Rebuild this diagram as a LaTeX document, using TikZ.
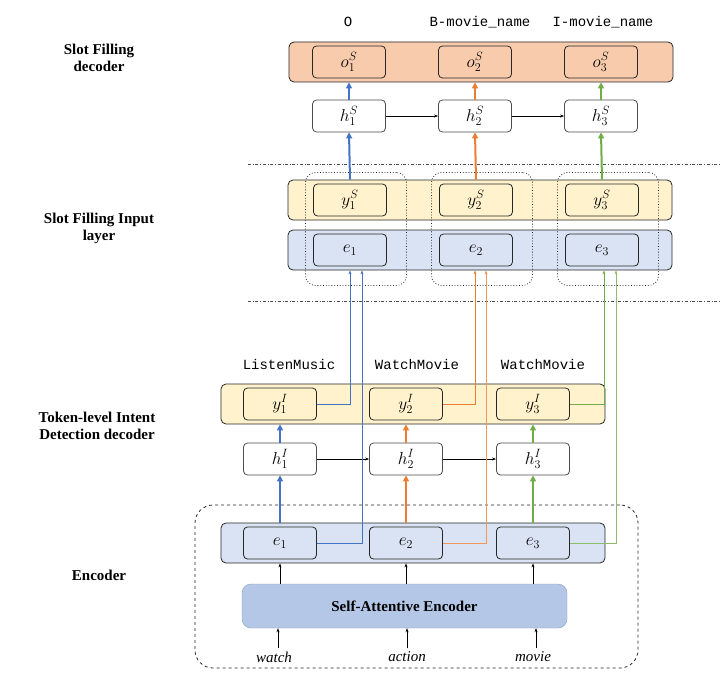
\documentclass[tikz,border=0pt]{standalone}
\usepackage{fontspec}
\setmainfont{Liberation Serif}
\setmonofont{Liberation Mono}
\usetikzlibrary{arrows.meta,calc}
\definecolor{cb}{HTML}{4472C4}
\definecolor{co}{HTML}{ED7D31}
\definecolor{cg}{HTML}{70AD47}
\definecolor{fo}{HTML}{F8CBAD}
\definecolor{fy}{HTML}{FFF2CC}
\definecolor{fb}{HTML}{DAE3F3}
\definecolor{fsa}{HTML}{B4C7E7}
\begin{document}
\begin{tikzpicture}[x=1pt,y=-1pt,
 row/.style={draw=black!85,line width=0.8pt,rounded corners=5pt,minimum width=384pt,minimum height=40pt,inner sep=0pt},
 cell/.style={draw=black!85,line width=0.8pt,rounded corners=4pt,minimum width=73pt,minimum height=32pt,inner sep=0pt,font=\fontsize{18}{20}\selectfont},
 hcell/.style={draw=black!70,line width=0.8pt,fill=white,rounded corners=4pt,minimum width=73pt,minimum height=32pt,inner sep=0pt,font=\fontsize{18}{20}\selectfont},
 grp/.style={draw=black!85,dotted,line width=0.8pt,rounded corners=10pt,minimum width=101pt,minimum height=113pt},
 lab/.style={font=\bfseries\fontsize{15}{17}\selectfont,align=center},
 tl/.style={font=\ttfamily\fontsize{14}{16}\selectfont},
 thick arr/.style={-{Triangle[width=6pt,length=6pt]},line width=2pt},
 thin arr/.style={-{Stealth[width=3pt,length=4pt]},line width=0.8pt},
 sep/.style={draw=black!70,dash dot,line width=0.6pt}]
\useasboundingbox (0,0) rectangle (720,690);
% left labels
\node[lab] (l1) at (99,58) {Slot Filling\\decoder};
\node[lab] (l2) at (99,228) {Slot Filling Input\\layer};
\node[lab] (l3) at (97,426) {Token-level Intent\\Detection decoder};
\node[lab] (l4) at (99,575) {Encoder};
% separators
\coordinate (s1a) at (248,164); \coordinate (s1b) at (720,164);
\coordinate (s2a) at (248,301); \coordinate (s2b) at (720,301);
\draw[sep] (s1a) -- (s1b);
\draw[sep] (s2a) -- (s2b);
% top labels
\node[tl] (t1) at (348,22) {O};
\node[tl] (t2) at (480,22) {B-movie\_name};
\node[tl] (t3) at (603,22) {I-movie\_name};
% slot decoder
\node[row,fill=fo] (orow) at (481,62) {};
\foreach \i/\x in {1/349,2/475,3/601}{
 \node[cell,fill=fo] (o\i) at (\x,62) {$o^S_{\i}$};
 \node[hcell] (hs\i) at (\x,116) {$h^S_{\i}$};
}
% slot input layer
\node[row,fill=fy] (ysrow) at (480,200) {};
\node[row,fill=fb] (etrow) at (480,250) {};
\foreach \i/\x in {1/350,2/476,3/602}{
 \node[cell,fill=fy] (ys\i) at (\x,200) {$y^S_{\i}$};
 \node[cell,fill=fb] (et\i) at (\x,250) {$e_{\i}$};
 \node[grp] (g\i) at (\x+6,229) {};
}
% intent labels
\node[tl] (i1) at (289,364) {ListenMusic};
\node[tl] (i2) at (417,364) {WatchMovie};
\node[tl] (i3) at (543,364) {WatchMovie};
% intent decoder
\node[row,fill=fy] (yirow) at (413,404) {};
\foreach \i/\x in {1/280,2/406,3/533}{
 \node[cell,fill=fy] (yi\i) at (\x,404) {$y^I_{\i}$};
 \node[hcell] (hi\i) at (\x,459) {$h^I_{\i}$};
}
% encoder
\node[draw=black!85,dashed,line width=0.8pt,rounded corners=18pt,minimum width=443pt,minimum height=163pt] (encbox) at (416.5,586.5) {};
\node[row,fill=fb] (erow) at (413,543) {};
\foreach \i/\x in {1/280,2/406,3/533}{
 \node[cell,fill=fb] (e\i) at (\x,543) {$e_{\i}$};
}
\node[fill=fsa,draw=fsa!80!black,rounded corners=9pt,minimum width=325pt,minimum height=44pt,font=\bfseries\fontsize{15}{17}\selectfont] (sa) at (404.5,606) {Self-Attentive Encoder};
\node[font=\itshape\fontsize{15}{17}\selectfont] (w1) at (274,657) {watch};
\node[font=\itshape\fontsize{15}{17}\selectfont] (w2) at (407,657) {action};
\node[font=\itshape\fontsize{15}{17}\selectfont] (w3) at (533,657) {movie};
% black arrows
\foreach \i/\x in {1/280,2/406,3/533}{
 \draw[thin arr] (sa.north -| e\i) -- (erow.south -| e\i);
}
\foreach \i/\x in {1/278,2/407,3/536}{
 \draw[thin arr] (w\i.north -| \x,0) -- (sa.south -| \x,0);
}
\draw[thin arr] (hi1) -- (hi2);
\draw[thin arr] (hi2) -- (hi3);
\draw[thin arr] (hs1) -- (hs2);
\draw[thin arr] (hs2) -- (hs3);
% coloured thick arrows
\foreach \i/\c in {1/cb,2/co,3/cg}{
 \draw[thick arr,\c] (erow.north -| e\i) -- (hi\i.south);
 \draw[thick arr,\c] (hi\i) -- (yirow.south -| hi\i);
 \draw[thick arr,\c] (ysrow.north -| ys\i) -- (hs\i.south);
 \draw[thick arr,\c] (hs\i) -- (orow.south -| hs\i);
}
% routing connectors
\coordinate (b1) at (350,0); \coordinate (b2) at (362,0);
\coordinate (b3) at (475,0); \coordinate (b4) at (486,0);
\coordinate (b5) at (604,0); \coordinate (b6) at (616,0);
\draw[thin arr,cb] (yi1.east) -| (etrow.south -| b1);
\draw[thin arr,cb] (e1.east) -| (etrow.south -| b2);
\draw[thin arr,co] (yi2.east) -| (etrow.south -| b3);
\draw[thin arr,co!80] (e2.east) -| (etrow.south -| b4);
\draw[thin arr,cg] (yi3.east) -| (etrow.south -| b5);
\draw[thin arr,cg!80] (e3.east) -| (etrow.south -| b6);
\end{tikzpicture}
\end{document}
